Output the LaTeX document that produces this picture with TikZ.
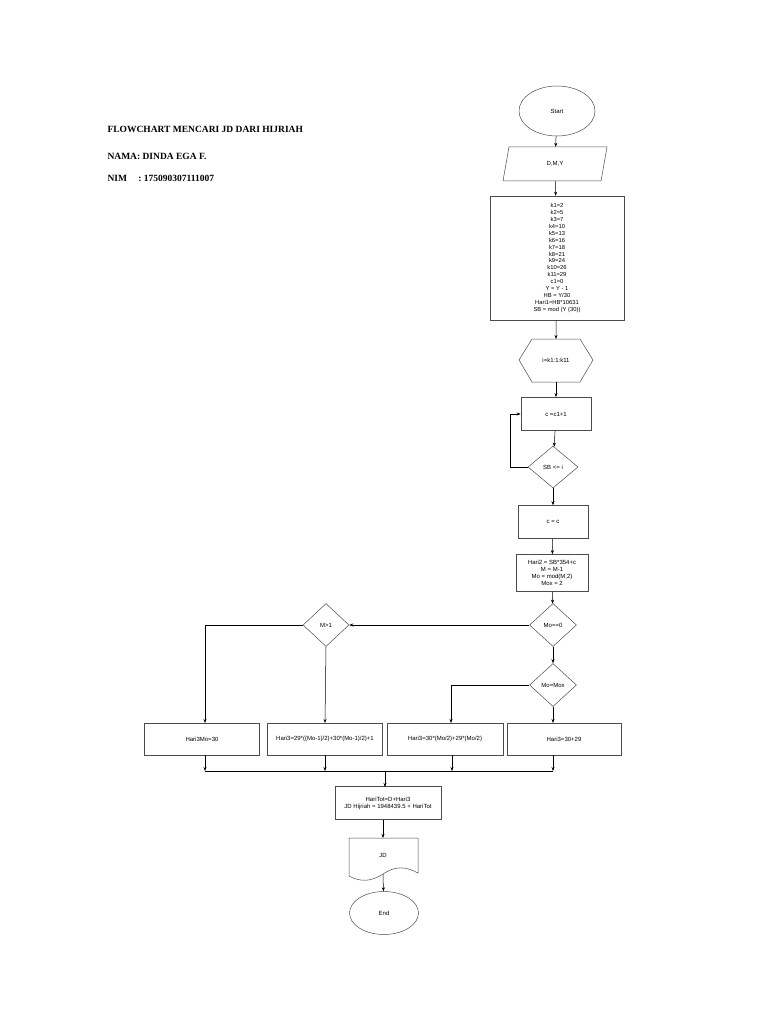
\documentclass[tikz,border=0pt]{standalone}
\usepackage{fontspec}
\setmainfont{Liberation Sans}
\newfontfamily\titlefont{Liberation Serif}
\usetikzlibrary{shapes.geometric,arrows.meta}
\begin{document}
\begin{tikzpicture}[x=1pt,y=-1pt,
  base/.style={draw=black!70,line width=0.5pt,font=\fontsize{6}{7}\selectfont,inner sep=1pt,align=center},
  boxn/.style={base,rectangle},
  dia/.style={base,diamond,aspect=1.1},
  arr/.style={-{Stealth[length=4pt,width=3pt]},line width=0.5pt},
  ln/.style={line width=0.5pt},
  ttl/.style={anchor=base west,font=\titlefont\bfseries\fontsize{9.5}{11}\selectfont}]
\useasboundingbox (0,0) rectangle (768,1024);
\node[ttl] (t1) at (104,133) {FLOWCHART MENCARI JD DARI HIJRIAH};
\node[ttl] (t2) at (104,160) {NAMA: DINDA EGA F.};
\node[ttl] (t3) at (104,182) {NIM\hspace{1.2em}: 175090307111007};
\node[base,ellipse,minimum width=76,minimum height=50] (start) at (557,111) {Start};
\node[base,trapezium,trapezium left angle=80,trapezium right angle=100,minimum width=66,minimum height=34] (dmy) at (555,164) {D,M,Y};
\node[boxn,minimum width=134,minimum height=124,font=\fontsize{5.8}{6.9}\selectfont] (init) at (557,258) {k1=2\\k2=5\\k3=7\\k4=10\\k5=13\\k6=16\\k7=18\\k8=21\\k9=24\\k10=26\\k11=29\\c1=0\\Y = Y - 1\\HB = Y/30\\Hari1=HB*10631\\SB = mod (Y (30))};
\draw[line width=0.5pt,draw=black!70] (519,360) -- (532,339) -- (580,339) -- (593,360) -- (580,382) -- (532,382) -- cycle;
\node[font=\fontsize{6}{7}\selectfont] (hex) at (556,360) {i=k1:1:k11};
\coordinate (hxt) at (556,339);
\coordinate (hxb) at (556,382);
\node[boxn,minimum width=70,minimum height=33,line width=0.8pt] (c1) at (556,414) {c =c1+1};
\node[dia,minimum width=50,minimum height=42] (sb) at (553,467) {SB <= i};
\node[boxn,minimum width=70,minimum height=33] (cc) at (553,522) {c = c};
\node[boxn,minimum width=72,minimum height=37] (h2) at (552,573) {Hari2 = SB*354+c\\M = M-1\\Mo = mod(M,2)\\Mox = 2};
\node[dia,minimum width=47,minimum height=43] (mo0) at (553,625) {Mo==0};
\node[dia,minimum width=46,minimum height=43] (m1) at (326,625) {M>1};
\node[dia,minimum width=47,minimum height=43] (mox) at (553,685) {Mo=Mox};
\node[boxn,minimum width=115,minimum height=32] (b1) at (202,739) {Hari3Mo=30};
\node[boxn,minimum width=115,minimum height=32] (b2) at (325,739) {Hari3=29*((Mo-1)/2)+30*(Mo-1)/2)+1};
\node[boxn,minimum width=116,minimum height=32] (b3) at (445,739) {Hari3=30*(Mo/2)+29*(Mo/2)};
\node[boxn,minimum width=114,minimum height=32] (b4) at (564,739) {Hari3=30+29};
\node[boxn,minimum width=106,minimum height=33] (tot) at (388,803) {HariTot=D+Hari3\\JD Hijriah = 1948439.5 + HariTot};
\draw[line width=0.5pt,draw=black!70] (349,838) -- (418,838) -- (418,873) .. controls (405,866) and (395,866) .. (383,874) .. controls (371,882) and (360,882) .. (349,876) -- cycle;
\node[font=\fontsize{6}{7}\selectfont] (jd) at (383,855) {JD};
\coordinate (jdb) at (383,838);
\node[base,ellipse,minimum width=69,minimum height=43] (end) at (384,913) {End};
\draw[arr] (start) -- (dmy);
\draw[arr] (dmy) -- (init);
\draw[arr] (init) -- (hxt);
\draw[arr] (hxb) -- (c1);
\draw[arr] (c1) -- (sb);
\draw[arr] (sb.west) -- (510,467) -- (510,414) -- (c1.west);
\draw[arr] (sb) -- (cc);
\draw[arr] (cc) -- (h2);
\draw[arr] (h2) -- (mo0);
\draw[arr] (mo0.west) -- (m1.east);
\draw[arr] (mo0) -- (mox);
\draw[arr] (m1.west) -- (205,625) -- (205,723);
\draw[arr] (m1.south) -- (325,723);
\draw[arr] (mox.west) -- (451,685) -- (451,723);
\draw[arr] (mox.south) -- (553,723);
\coordinate (jl) at (205,771);
\coordinate (jr) at (553,771);
\draw[ln] (jl) -- (jr);
\draw[arr] (205,755) -- (jl);
\draw[arr] (325,755) -- (325,771);
\draw[arr] (452,755) -- (452,771);
\draw[arr] (553,755) -- (jr);
\draw[arr] (385,771) -- (385,787);
\draw[arr] (tot.south -| jdb) -- (jdb);
\draw[arr] (383,874) -- (end);
\end{tikzpicture}
\end{document}
